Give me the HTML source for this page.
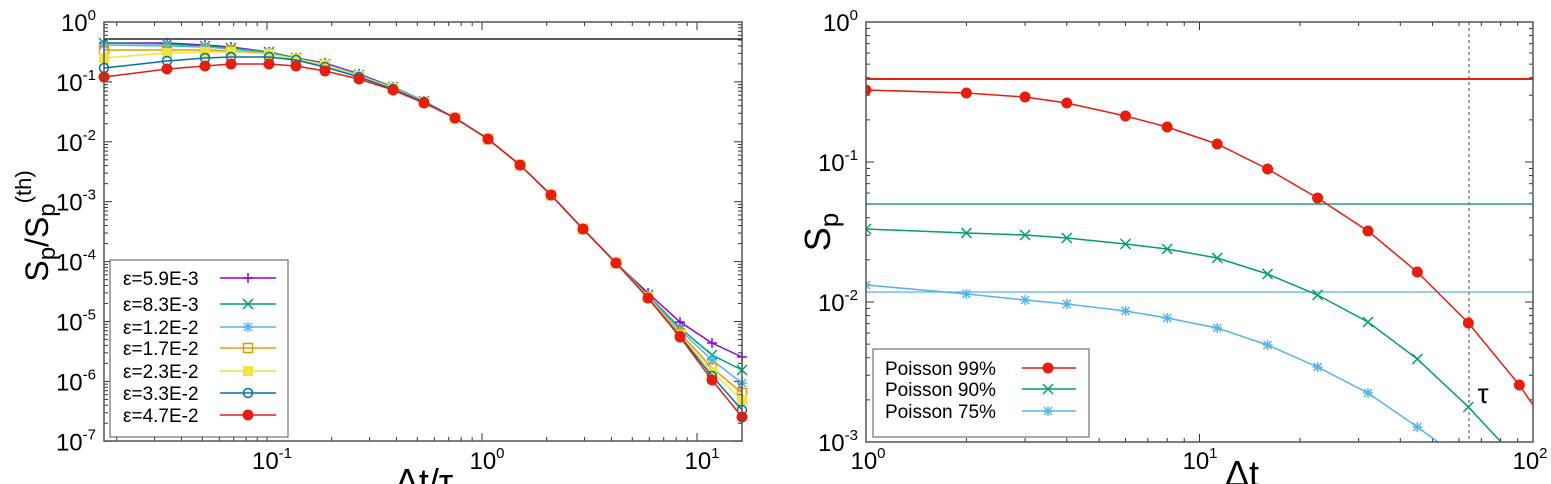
<!DOCTYPE html>
<html><head><meta charset="utf-8"><style>
html,body{margin:0;padding:0;background:#fff;}
svg{display:block;font-family:"Liberation Sans",sans-serif;}
</style></head><body>
<svg id="s" width="1551" height="484" viewBox="0 0 1551 484" xmlns="http://www.w3.org/2000/svg">
<rect width="1551" height="484" fill="#fff"/>
<g id="g"></g>
</svg>
<script>
var g=document.getElementById('g'),h='';
function ln(x1,y1,x2,y2,c,w,extra){h+='<line x1="'+x1+'" y1="'+y1+'" x2="'+x2+'" y2="'+y2+'" stroke="'+c+'" stroke-width="'+w+'" '+(extra||'')+'/>';}
function pl(pts,c,w){h+='<polyline fill="none" stroke="'+c+'" stroke-width="'+w+'" points="'+pts.map(function(p){return p[0].toFixed(1)+','+p[1].toFixed(1)}).join(' ')+'"/>';}
function mk(t,x,y,c){var s=5;
 if(t=='+'){ln(x-s,y,x+s,y,c,1.5);ln(x,y-s,x,y+s,c,1.5);}
 else if(t=='x'){ln(x-s,y-s,x+s,y+s,c,1.5);ln(x-s,y+s,x+s,y-s,c,1.5);}
 else if(t=='*'){ln(x-s,y,x+s,y,c,1.5);ln(x,y-s,x,y+s,c,1.5);ln(x-4,y-4,x+4,y+4,c,1.5);ln(x-4,y+4,x+4,y-4,c,1.5);}
 else if(t=='sq'){h+='<rect x="'+(x-4.5)+'" y="'+(y-4.5)+'" width="9" height="9" fill="none" stroke="'+c+'" stroke-width="1.5"/>';}
 else if(t=='fsq'){h+='<rect x="'+(x-5)+'" y="'+(y-5)+'" width="10" height="10" fill="'+c+'"/>';}
 else if(t=='o'){h+='<circle cx="'+x+'" cy="'+y+'" r="4.5" fill="none" stroke="'+c+'" stroke-width="1.5"/>';}
 else if(t=='fo'){h+='<circle cx="'+x+'" cy="'+y+'" r="5.5" fill="'+c+'"/>';}
}
function txt(x,y,s,size,anchor,extra){h+='<text x="'+x+'" y="'+y+'" font-size="'+size+'" text-anchor="'+(anchor||'start')+'" '+(extra||'')+'>'+s+'</text>';}
function pow(x,y,e,anchor){h+='<text x="'+x+'" y="'+y+'" font-size="24" text-anchor="'+anchor+'">10<tspan font-size="15" dy="-11">'+e+'</tspan></text>';}

/* ---------- LEFT PLOT ---------- */
var L={x0:104,x1:742,y0:22,y1:441};
function lx(l){return 482+215*l;} function ly(l){return 22-59.9*l;}
for(var d=-2;d<=1;d++)for(var m=1;m<10;m++){var x=lx(d+Math.log10(m));if(x<L.x0||x>L.x1)continue;var len=m==1?8:4;ln(x,L.y1,x,L.y1-len,'#333',1);ln(x,L.y0,x,L.y0+len,'#333',1);}
for(var d=-7;d<=0;d++)for(var m=1;m<10;m++){var y=ly(d+Math.log10(m));if(y<L.y0-0.5||y>L.y1+0.5)continue;var len=m==1?8:4;ln(L.x0,y,L.x0+len,y,'#333',1);ln(L.x1,y,L.x1-len,y,'#333',1);}
ln(L.x0,39,L.x1,39,'#222',1.5);
var xs=[104,167,205,231,269,296,325,359,393,424,455,488,520,551,583,616,648,680,712,742];
var red=[77,69,66,64,64,66,71,79,90,103,118,139,165,195,229,263,298,337,380,417];
function ser(start,end){var a=red.slice();for(var i=0;i<start.length;i++)a[i]=start[i];for(var j=0;j<end.length;j++)a[20-end.length+j]=end[j];return a;}
var S=[
 ['#9400d3','+',ser([43,43,45,47,52,58,63,74,87,101],[293,322,343,357])],
 ['#009e73','x',ser([43,44,46,48,52,58,64,75,87,101],[295,328,355,370])],
 ['#56b4e9','*',ser([45,46,47,49,53,59,64,75,88,101],[296,330,360,383])],
 ['#e69f00','sq',ser([50,50,50,51,54,59,65,76,88,102],[297,333,368,393])],
 ['#f0e442','fsq',ser([58,53,52,52,54,59,65,76,88,102],[297,335,372,400])],
 ['#0072b2','o',ser([68,61,58,57,57,60,67,77,89,102],[298,336,376,410])],
 ['#e51e10','fo',red]];
S.forEach(function(s){pl(xs.map(function(x,i){return[x,s[2][i]]}),s[0],1.5);xs.forEach(function(x,i){mk(s[1],x,s[2][i],s[0]);});});
h+='<rect x="'+L.x0+'" y="'+L.y0+'" width="'+(L.x1-L.x0)+'" height="'+(L.y1-L.y0)+'" fill="none" stroke="#555" stroke-width="1.5"/>';
h+='<rect x="110" y="260" width="178" height="177" fill="#fff" stroke="#555" stroke-width="1"/>';
var labs=['5.9E-3','8.3E-3','1.2E-2','1.7E-2','2.3E-2','3.3E-2','4.7E-2'],ly2=[278,304,327,348,371,393,415];
S.forEach(function(s,i){txt(123,ly2[i]+7,'ε='+labs[i],19);ln(220,ly2[i],276,ly2[i],s[0],1.5);mk(s[1],248,ly2[i],s[0]);});
for(var d=0;d>=-7;d--)pow(96,ly(d)+9,d,'end');
pow(272,469,'-1','middle');pow(487,469,'0','middle');pow(702,469,'1','middle');
h+='<text transform="translate(48,226) rotate(-90)" font-size="32" text-anchor="middle">S<tspan font-size="24" dy="7">p</tspan><tspan dy="-7">/S</tspan><tspan font-size="24" dy="7">p</tspan><tspan font-size="22" dy="-24">(th)</tspan></text>';
txt(424,494,'Δt/τ',36,'middle');

/* ---------- RIGHT PLOT ---------- */
var R={x0:866,x1:1533,y0:22,y1:442};
function rx(l){return 866+333.5*l;} function ry(l){return 22-140*l;}
for(var d=0;d<2;d++)for(var m=1;m<=10;m++){var x=rx(d+Math.log10(m));var len=(m==1||m==10)?8:4;ln(x,R.y1,x,R.y1-len,'#333',1);ln(x,R.y0,x,R.y0+len,'#333',1);}
for(var d=-3;d<0;d++)for(var m=1;m<=10;m++){var y=ry(d+Math.log10(m));var len=(m==1||m==10)?8:4;ln(R.x0,y,R.x0+len,y,'#333',1);ln(R.x1,y,R.x1-len,y,'#333',1);}
ln(1469,R.y0,1469,R.y1,'#666',1.2,'stroke-dasharray="3,3"');
ln(R.x0,79,R.x1,79,'#e51e10',2);
ln(R.x0,204,R.x1,204,'#2a9d6f',1.5);
ln(R.x0,292,R.x1,292,'#56b4e9',1.2);
var pv=[1,2,3,4,6,8,11.3,16,22.6,32,45,64,91];
var px=pv.map(function(v){return rx(Math.log10(v));});
var rr=[90,93,97,103,116,127,144,169,198,231,272,323,385];
var gg=[229,233,235,238,244,249,258,274,295,322,359,407];
var bb=[285,294,300,304,311,318,328,345,367,393,427];
function rs(arr,c,m,end){var p=arr.map(function(y,i){return[px[i],y]});p.push(end);pl(p,c,1.5);arr.forEach(function(y,i){mk(m,px[i],y,c);});}
h+='<clipPath id="cr"><rect x="866" y="22" width="667" height="420"/></clipPath><g clip-path="url(#cr)">';
rs(rr,'#e51e10','fo',[1533,405]);
rs(gg,'#009e73','x',[1501,442]);
rs(bb,'#56b4e9','*',[1438,442]);
h+='</g>';
h+='<rect x="'+R.x0+'" y="'+R.y0+'" width="'+(R.x1-R.x0)+'" height="'+(R.y1-R.y0)+'" fill="none" stroke="#555" stroke-width="1.5"/>';
h+='<rect x="873" y="349" width="216" height="88" fill="#fff" stroke="#555" stroke-width="1"/>';
var RL=[['Poisson 99%','#e51e10','fo',368],['Poisson 90%','#009e73','x',389],['Poisson 75%','#56b4e9','*',411]];
RL.forEach(function(r){txt(885,r[3]+7,r[0],19);ln(1022,r[3],1076,r[3],r[1],1.5);mk(r[2],1048,r[3],r[1]);});
txt(1483,403,'τ',28,'middle');
for(var d=0;d>=-3;d--)pow(858,ry(d)+9,d,'end');
pow(868,469,'0','middle');pow(1200,469,'1','middle');pow(1530,469,'2','middle');
h+='<text transform="translate(830,232) rotate(-90)" font-size="36" text-anchor="middle">S<tspan font-size="26" dy="8">p</tspan></text>';
txt(1242,486,'Δt',36,'middle');
g.innerHTML=h;
</script>
</body></html>
